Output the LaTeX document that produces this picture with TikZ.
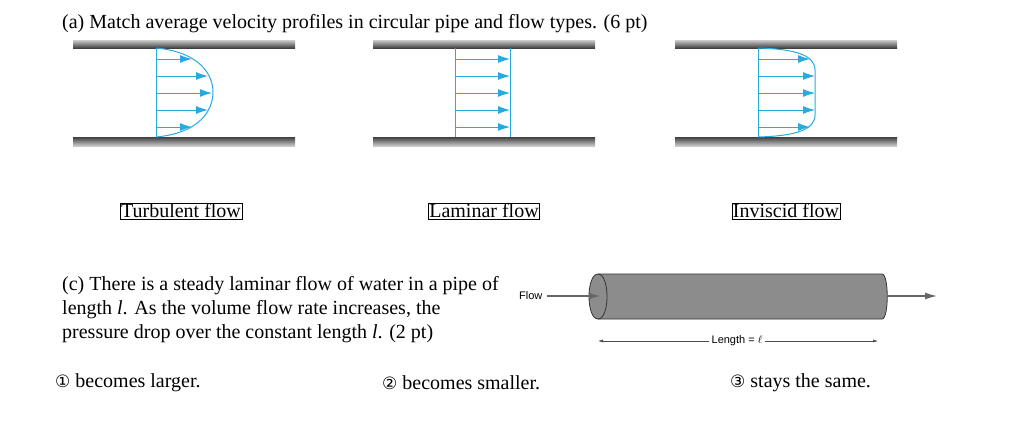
\documentclass[tikz,border=0pt]{standalone}
\usepackage{fontspec}
\setmainfont{Liberation Serif}
\newfontfamily\circfont{DejaVu Sans}
\newfontfamily\sansf{Liberation Sans}
\usetikzlibrary{arrows.meta}
\definecolor{pblue}{RGB}{40,170,225}
\begin{document}
\begin{tikzpicture}[x=1pt,y=-1pt,
  txt/.style={font=\fontsize{20}{24}\selectfont,inner sep=0pt,anchor=west},
  wallt/.style={top color=gray!40,bottom color=black!75,draw=none},
  wallb/.style={top color=black!75,bottom color=gray!40,draw=none},
  prof/.style={pblue,line width=1pt},
  parr/.style={pblue,line width=1pt,-{Latex[length=12pt,width=8pt]}},
  lbl/.style={draw,line width=0.7pt,inner sep=1pt,font=\fontsize{20}{24}\selectfont}]
\useasboundingbox (0,0) rectangle (1024,440);
\node[txt] (title) at (62,24) {(a) Match average velocity profiles in circular pipe and flow types. (6 pt)};
% walls
\foreach \a/\b in {73/295,373/595,675/897}{
  \fill[wallt] (\a,40) rectangle (\b,48);
  \fill[wallb] (\a,137) rectangle (\b,146);
}
% profile 1 (parabolic)
\draw[prof] (156,48) -- (156,137);
\draw[prof] (156,48) .. controls (200,52) and (213,75) .. (213,92) .. controls (213,110) and (200,133) .. (156,137);
\foreach \y/\t in {59/192,76/208,93/212,110/208,127/192}{\draw[parr] (156,\y) -- (\t,\y);}
% profile 2 (uniform)
\draw[prof] (455,48) -- (455,137);
\draw[prof] (510,48) -- (510,137);
\foreach \y in {59,76,93,110,127}{\draw[parr] (455,\y) -- (510,\y);}
% profile 3 (flat)
\draw[prof] (758,48) -- (758,137);
\draw[prof] (758,48) .. controls (795,49) and (815,55) .. (815,70) -- (815,115) .. controls (815,130) and (795,136) .. (758,137);
\foreach \y/\t in {59/810,76/815,93/815,110/815,127/810}{\draw[parr] (758,\y) -- (\t,\y);}
% labels
\node[lbl] (l1) at (181,211) {Turbulent flow};
\node[lbl] (l2) at (484,211) {Laminar flow};
\node[lbl] (l3) at (786,211) {Inviscid flow};
% part c text
\node[txt] (c1) at (62,286) {(c) There is a steady laminar flow of water in a pipe of};
\node[txt] (c2) at (62,310) {length \textit{l}. As the volume flow rate increases, the};
\node[txt] (c3) at (62,334) {pressure drop over the constant length \textit{l}. (2 pt)};
\node[txt] (o1) at (55,383) {{\circfont\fontsize{17}{20}\selectfont ①} becomes larger.};
\node[txt] (o2) at (382,383) {{\circfont\fontsize{17}{20}\selectfont ②} becomes smaller.};
\node[txt] (o3) at (730,383) {{\circfont\fontsize{17}{20}\selectfont ③} stays the same.};
% cylinder
\filldraw[fill=black!45, draw=black!80, line width=0.8pt] (598,274) -- (882,274) .. controls (889,274) and (889,319) .. (882,319) -- (598,319) .. controls (586,319) and (586,274) .. (598,274) -- cycle;
\draw[black!80,line width=0.8pt] (598,274) .. controls (610,274) and (610,319) .. (598,319);
\node[font=\sansf\fontsize{11}{12}\selectfont,anchor=west,inner sep=0pt] (flow) at (519,296) {Flow};
\coordinate (fin) at (600,296);
\coordinate (fout0) at (887,296);
\coordinate (fout) at (937,296);
\draw[black!60,line width=1.2pt,-{Latex[length=11pt,width=7pt]}] (flow.east) ++(4,0) -- (fin);
\draw[black!60,line width=1.2pt,-{Latex[length=12pt,width=7pt]}] (fout0) -- (fout);
\node[font=\sansf\fontsize{11}{12}\selectfont,inner sep=2pt,fill=white] (len) at (737,341) {Length = $\ell$};
\coordinate (la) at (598,341);
\coordinate (lb) at (878,341);
\draw[black!70,line width=0.5pt,-{Latex[length=5pt,width=3pt]}] (len.west) -- (la);
\draw[black!70,line width=0.5pt,-{Latex[length=5pt,width=3pt]}] (len.east) -- (lb);
\end{tikzpicture}
\end{document}
